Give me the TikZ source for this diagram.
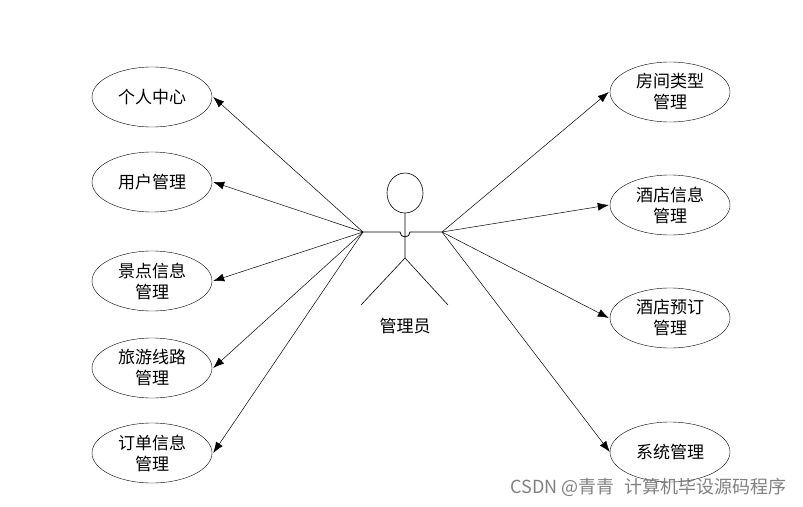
\documentclass[tikz,border=0pt]{standalone}
\usepackage{fontspec}
\setmainfont{Noto Sans CJK SC}
\usetikzlibrary{arrows.meta,shapes.geometric}
\begin{document}
\begin{tikzpicture}[x=1pt,y=-1pt,
  uc/.style={draw,ellipse,minimum width=120pt,minimum height=60pt,inner sep=0pt,align=center,font=\fontsize{17}{21}\selectfont},
  conn/.style={-{Latex[length=11pt,width=8pt]},line width=0.5pt}]
\useasboundingbox (0,0) rectangle (803,506);
\draw[line width=0.6pt] (405,193) ellipse (18 and 20);
\coordinate (la) at (363,232);
\coordinate (ra) at (442,232);
\draw[line width=0.8pt] (la) -- (400,232) arc (180:0:5) -- (ra);
\draw[line width=0.6pt] (405,213) -- (405,258) -- (361,305);
\draw[line width=0.6pt] (405,258) -- (448,305);
\node[font=\fontsize{17}{21}\selectfont] (actor) at (405,326) {管理员};
\node[uc] (l1) at (152,97) {个人中心};
\node[uc] (l2) at (152,182) {用户管理};
\node[uc] (l3) at (152,281) {景点信息\\管理};
\node[uc] (l4) at (152,368) {旅游线路\\管理};
\node[uc] (l5) at (152,453) {订单信息\\管理};
\node[uc] (r1) at (670,92) {房间类型\\管理};
\node[uc] (r2) at (670,205) {酒店信息\\管理};
\node[uc] (r3) at (670,318) {酒店预订\\管理};
\node[uc] (r4) at (670,452) {系统管理};
\foreach \n in {l1,l2,l3,l4,l5} \draw[conn] (la) -- ([xshift=1pt]\n.east);
\draw[conn] (ra) -- ([xshift=-1pt]r1.west);
\draw[conn] (ra) -- ([xshift=-1pt]r2.west);
\draw[conn] (ra) -- ([xshift=-1pt]r3.west);
\draw[conn] (ra) -- (r4.west);
\node[text=gray,font=\fontsize{18}{21}\selectfont,anchor=east] (wm) at (790,487) {CSDN @青青\hspace{10pt}计算机毕设源码程序};
\end{tikzpicture}
\end{document}
